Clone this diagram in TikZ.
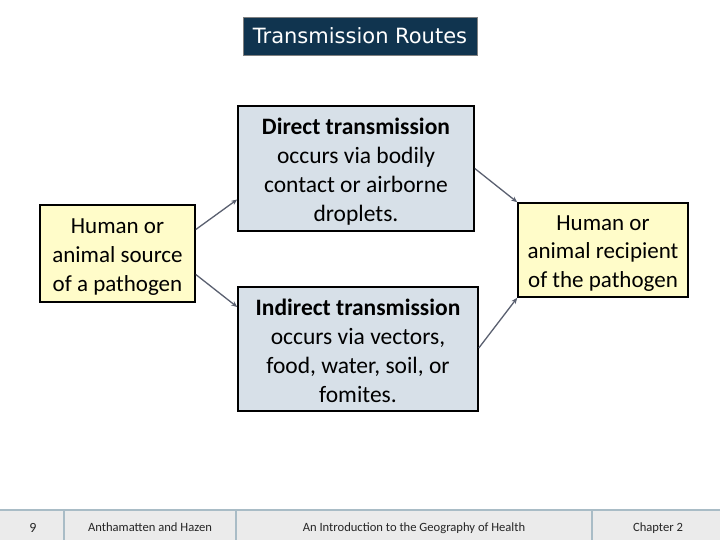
\documentclass[tikz,border=0pt]{standalone}
\usepackage{fontspec}
\setmainfont{Carlito}
\newfontfamily\titlefont{DejaVu Sans}
\usetikzlibrary{arrows.meta}
\definecolor{navy}{HTML}{10344F}
\definecolor{paleyellow}{HTML}{FFFCC9}
\definecolor{paleblue}{HTML}{D7E0E8}
\definecolor{conn}{HTML}{5A6070}
\definecolor{footbg}{HTML}{EBEBEB}
\definecolor{footline}{HTML}{A9BCC6}
\tikzset{
  srcbox/.style={draw=black, line width=1.6pt, fill=paleyellow, inner sep=0pt},
  routebox/.style={draw=black, line width=1.6pt, fill=paleblue, inner sep=0pt},
  srctext/.style={align=center, font=\fontsize{23}{28.8}\selectfont, inner sep=0pt},
  routetext/.style={align=center, font=\fontsize{23.5}{29}\selectfont, inner sep=0pt},
  conline/.style={draw=conn, line width=1.3pt, -{Stealth[length=6pt,width=5pt]}},
  foottext/.style={font=\fontsize{12.6}{14}\selectfont, text=black!85, anchor=base}
}
\begin{document}
\begin{tikzpicture}[x=1pt,y=-1pt]
\useasboundingbox (0,0) rectangle (720,540);
\fill[white] (0,0) rectangle (720,540);
% title
\node[draw=black!50, line width=0.8pt, fill=navy, text=white, minimum width=234pt, minimum height=38pt, inner sep=0pt, font=\titlefont\fontsize{21}{24}\selectfont] (title) at (360,36) {Transmission Routes};
% boxes
\node[srcbox, minimum width=155pt, minimum height=97pt] (src) at (117.5,253.5) {};
\node[srctext] (srct) at ([yshift=-3.5pt]src.center) {Human or\\animal source\\of a pathogen};
\node[routebox, minimum width=236pt, minimum height=125pt] (direct) at (356,168.5) {};
\node[routetext] (directt) at ([yshift=-3pt]direct.center) {\textbf{Direct transmission}\\occurs via bodily\\contact or airborne\\droplets.};
\node[routebox, minimum width=240pt, minimum height=124pt] (indirect) at (358,349) {};
\node[routetext] (indirectt) at ([yshift=-1.5pt]indirect.center) {\textbf{Indirect transmission}\\occurs via vectors,\\food, water, soil, or\\fomites.};
\node[srcbox, minimum width=170pt, minimum height=94pt] (dst) at (603,250) {};
\node[srctext] (dstt) at ([yshift=-3.5pt]dst.center) {Human or\\animal recipient\\of the pathogen};
% connectors
\draw[conline] ([yshift=24pt]src.east) -- ([yshift=-31pt]direct.west);
\draw[conline] ([yshift=-21pt]src.east) -- ([yshift=42pt]indirect.west);
\draw[conline] (direct.east) -- (dst.north west);
\draw[conline] ([yshift=1pt]indirect.east) -- (dst.south west);
% footer
\fill[footbg] (0,510) rectangle (720,540);
\draw[footline, line width=2.5pt] (0,510) -- (720,510);
\coordinate (s1a) at (64,510); \coordinate (s1b) at (64,540);
\coordinate (s2a) at (236,510); \coordinate (s2b) at (236,540);
\coordinate (s3a) at (592,510); \coordinate (s3b) at (592,540);
\draw[footline, line width=2pt] (s1a) -- (s1b) (s2a) -- (s2b) (s3a) -- (s3b);
\node[foottext, font=\fontsize{14}{16}\selectfont] (f1) at (33,532) {9};
\node[foottext] (f2) at (150,531) {Anthamatten and Hazen};
\node[foottext] (f3) at (414,531) {An Introduction to the Geography of Health};
\node[foottext] (f4) at (658,531) {Chapter 2};
\end{tikzpicture}
\end{document}
